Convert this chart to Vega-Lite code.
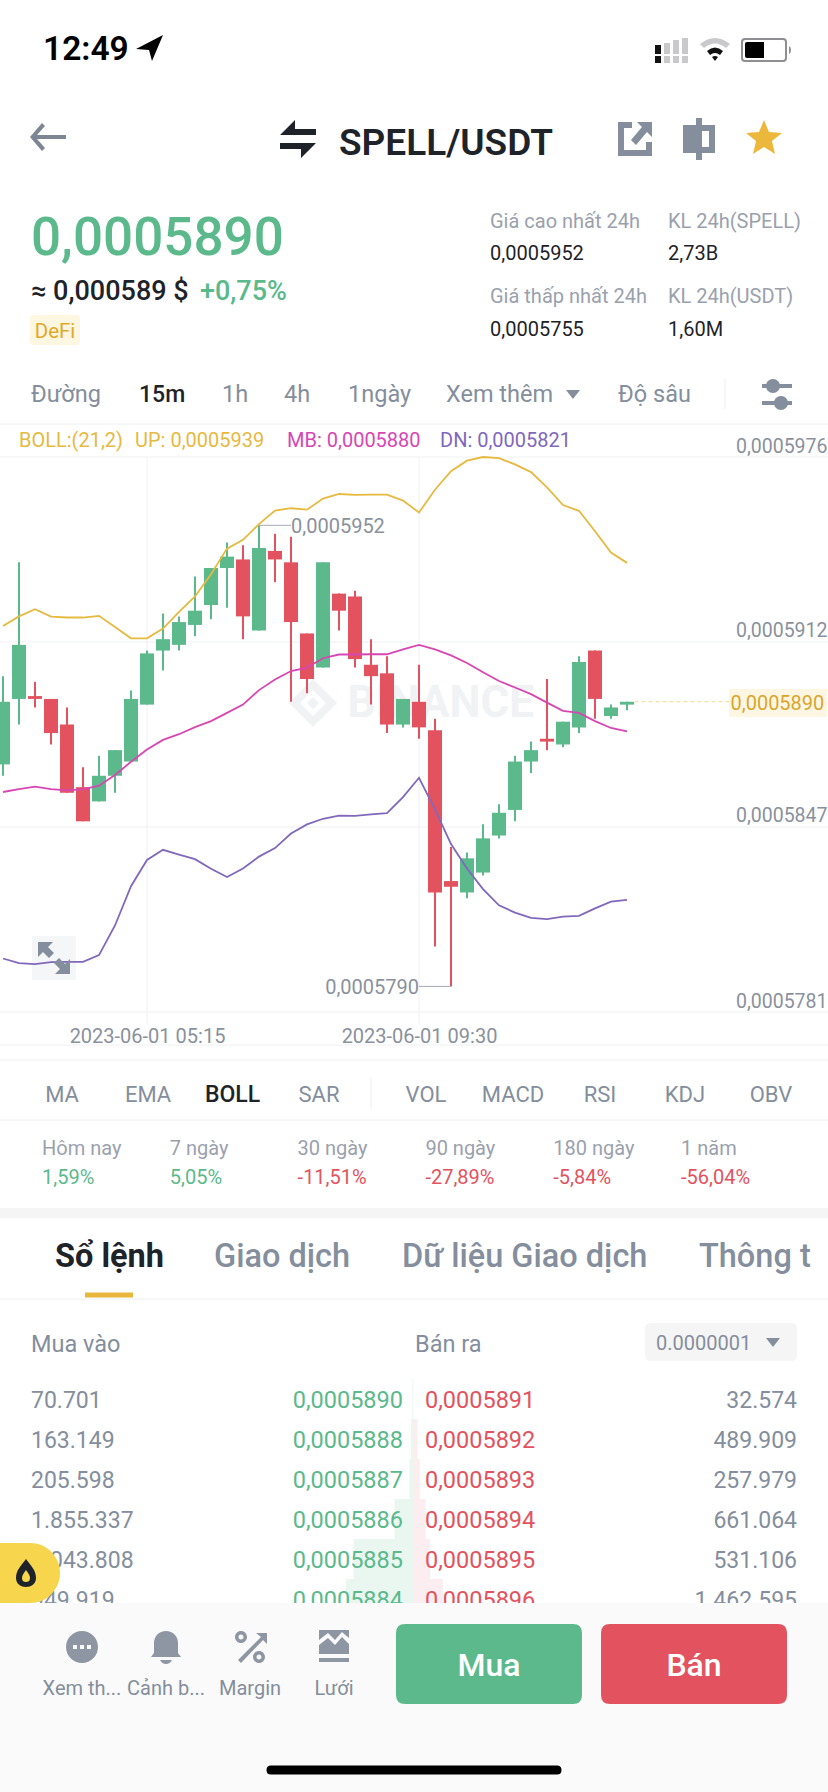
{
  "$schema": "https://vega.github.io/schema/vega-lite/v6.json",
  "width": 828,
  "height": 1792,
  "padding": 0,
  "autosize": "none",
  "background": "#ffffff",
  "config": {"font": "Roboto", "view": {"stroke": null}, "text": {"dy": 2}},
  "resolve": {"scale": {"x": "independent", "y": "independent", "color": "independent", "shape": "independent"}},
  "datasets": {
    "candles": [
      {"time":"2023-06-01T03:00","open":0.0005868,"high":0.0005899,"low":0.0005864,"close":0.000589,"up":0.00059166,"mb":0.00058583,"dn":0.00057998},
      {"time":"2023-06-01T03:15","open":0.0005891,"high":0.0005939,"low":0.0005882,"close":0.000591,"up":0.000592,"mb":0.00058593,"dn":0.00057982},
      {"time":"2023-06-01T03:30","open":0.0005892,"high":0.0005897,"low":0.0005888,"close":0.0005891,"up":0.00059225,"mb":0.00058602,"dn":0.00057978},
      {"time":"2023-06-01T03:45","open":0.0005891,"high":0.0005891,"low":0.0005875,"close":0.0005879,"up":0.00059199,"mb":0.00058593,"dn":0.00057985},
      {"time":"2023-06-01T04:00","open":0.0005882,"high":0.0005888,"low":0.0005858,"close":0.0005858,"up":0.00059196,"mb":0.00058589,"dn":0.00057986},
      {"time":"2023-06-01T04:15","open":0.000586,"high":0.0005867,"low":0.0005848,"close":0.0005848,"up":0.00059196,"mb":0.00058592,"dn":0.00057986},
      {"time":"2023-06-01T04:30","open":0.0005855,"high":0.0005871,"low":0.0005855,"close":0.0005864,"up":0.00059202,"mb":0.00058605,"dn":0.0005801},
      {"time":"2023-06-01T04:45","open":0.0005864,"high":0.0005873,"low":0.0005858,"close":0.0005873,"up":0.00059163,"mb":0.00058643,"dn":0.00058114},
      {"time":"2023-06-01T05:00","open":0.0005869,"high":0.0005894,"low":0.0005869,"close":0.0005891,"up":0.00059123,"mb":0.00058689,"dn":0.00058252},
      {"time":"2023-06-01T05:15","open":0.0005889,"high":0.0005908,"low":0.0005889,"close":0.0005907,"up":0.00059123,"mb":0.00058732,"dn":0.00058344},
      {"time":"2023-06-01T05:30","open":0.0005908,"high":0.0005921,"low":0.0005901,"close":0.0005912,"up":0.00059157,"mb":0.00058766,"dn":0.0005838},
      {"time":"2023-06-01T05:45","open":0.000591,"high":0.000592,"low":0.0005908,"close":0.0005918,"up":0.00059216,"mb":0.00058786,"dn":0.00058363},
      {"time":"2023-06-01T06:00","open":0.0005917,"high":0.0005934,"low":0.0005913,"close":0.0005922,"up":0.0005927,"mb":0.00058811,"dn":0.00058347},
      {"time":"2023-06-01T06:15","open":0.0005924,"high":0.0005937,"low":0.0005919,"close":0.0005937,"up":0.00059348,"mb":0.00058832,"dn":0.00058313},
      {"time":"2023-06-01T06:30","open":0.0005937,"high":0.0005946,"low":0.0005923,"close":0.0005941,"up":0.00059438,"mb":0.00058861,"dn":0.00058284},
      {"time":"2023-06-01T06:45","open":0.000594,"high":0.0005945,"low":0.0005912,"close":0.000592,"up":0.00059469,"mb":0.0005889,"dn":0.00058314},
      {"time":"2023-06-01T07:00","open":0.0005915,"high":0.0005952,"low":0.0005915,"close":0.0005944,"up":0.00059524,"mb":0.00058941,"dn":0.00058356},
      {"time":"2023-06-01T07:15","open":0.0005943,"high":0.0005949,"low":0.0005932,"close":0.000594,"up":0.00059572,"mb":0.00058978,"dn":0.00058386},
      {"time":"2023-06-01T07:30","open":0.0005939,"high":0.0005948,"low":0.000589,"close":0.0005918,"up":0.0005958,"mb":0.00059008,"dn":0.00058437},
      {"time":"2023-06-01T07:45","open":0.0005914,"high":0.0005914,"low":0.0005893,"close":0.0005898,"up":0.00059575,"mb":0.0005902,"dn":0.00058469},
      {"time":"2023-06-01T08:00","open":0.0005902,"high":0.0005939,"low":0.0005902,"close":0.0005939,"up":0.00059614,"mb":0.00059053,"dn":0.00058489},
      {"time":"2023-06-01T08:15","open":0.0005928,"high":0.0005928,"low":0.0005915,"close":0.0005922,"up":0.0005963,"mb":0.00059066,"dn":0.000585},
      {"time":"2023-06-01T08:30","open":0.0005927,"high":0.0005929,"low":0.0005902,"close":0.0005905,"up":0.00059627,"mb":0.00059066,"dn":0.00058499},
      {"time":"2023-06-01T08:45","open":0.0005903,"high":0.0005912,"low":0.0005889,"close":0.0005899,"up":0.00059628,"mb":0.00059067,"dn":0.00058504},
      {"time":"2023-06-01T09:00","open":0.00059,"high":0.0005906,"low":0.0005879,"close":0.0005882,"up":0.00059628,"mb":0.00059067,"dn":0.00058509},
      {"time":"2023-06-01T09:15","open":0.0005882,"high":0.0005891,"low":0.0005881,"close":0.0005891,"up":0.00059607,"mb":0.00059084,"dn":0.00058565},
      {"time":"2023-06-01T09:30","open":0.000589,"high":0.0005903,"low":0.0005877,"close":0.0005881,"up":0.00059565,"mb":0.000591,"dn":0.00058633},
      {"time":"2023-06-01T09:45","open":0.000588,"high":0.0005884,"low":0.0005804,"close":0.0005823,"up":0.00059645,"mb":0.00059084,"dn":0.00058522},
      {"time":"2023-06-01T10:00","open":0.0005827,"high":0.0005839,"low":0.000579,"close":0.0005825,"up":0.0005971,"mb":0.00059063,"dn":0.000584},
      {"time":"2023-06-01T10:15","open":0.0005823,"high":0.0005837,"low":0.0005821,"close":0.0005835,"up":0.00059747,"mb":0.00059036,"dn":0.00058314},
      {"time":"2023-06-01T10:30","open":0.000583,"high":0.0005847,"low":0.0005829,"close":0.0005842,"up":0.0005976,"mb":0.00059004,"dn":0.00058242},
      {"time":"2023-06-01T10:45","open":0.0005843,"high":0.0005854,"low":0.0005842,"close":0.0005851,"up":0.00059756,"mb":0.00058973,"dn":0.00058185},
      {"time":"2023-06-01T11:00","open":0.0005852,"high":0.0005871,"low":0.0005848,"close":0.0005869,"up":0.00059734,"mb":0.0005895,"dn":0.00058159},
      {"time":"2023-06-01T11:15","open":0.0005869,"high":0.0005876,"low":0.0005865,"close":0.0005873,"up":0.00059707,"mb":0.00058927,"dn":0.00058141},
      {"time":"2023-06-01T11:30","open":0.0005877,"high":0.0005898,"low":0.0005873,"close":0.0005876,"up":0.00059653,"mb":0.00058897,"dn":0.00058136},
      {"time":"2023-06-01T11:45","open":0.0005875,"high":0.0005883,"low":0.0005874,"close":0.0005883,"up":0.00059591,"mb":0.00058868,"dn":0.00058145},
      {"time":"2023-06-01T12:00","open":0.0005881,"high":0.0005906,"low":0.0005879,"close":0.0005904,"up":0.00059571,"mb":0.00058861,"dn":0.00058148},
      {"time":"2023-06-01T12:15","open":0.0005908,"high":0.0005908,"low":0.0005884,"close":0.0005891,"up":0.00059499,"mb":0.00058832,"dn":0.00058174},
      {"time":"2023-06-01T12:30","open":0.0005885,"high":0.0005889,"low":0.0005884,"close":0.0005888,"up":0.00059424,"mb":0.00058808,"dn":0.00058198},
      {"time":"2023-06-01T12:45","open":0.0005889,"high":0.000589,"low":0.0005887,"close":0.000589,"up":0.00059388,"mb":0.00058796,"dn":0.00058204}
    ],
    "book": [
      {"level":1,"bid":"70.701","bidPrice":"0,0005890","bidDepth":70701,"askPrice":"0,0005891","ask":"32.574","askDepth":32574},
      {"level":2,"bid":"163.149","bidPrice":"0,0005888","bidDepth":233850,"askPrice":"0,0005892","ask":"489.909","askDepth":522483},
      {"level":3,"bid":"205.598","bidPrice":"0,0005887","bidDepth":439448,"askPrice":"0,0005893","ask":"257.979","askDepth":780462},
      {"level":4,"bid":"1.855.337","bidPrice":"0,0005886","bidDepth":2294785,"askPrice":"0,0005894","ask":"661.064","askDepth":1441526},
      {"level":5,"bid":"5.043.808","bidPrice":"0,0005885","bidDepth":7338593,"askPrice":"0,0005895","ask":"531.106","askDepth":1972632},
      {"level":6,"bid":"949.919","bidPrice":"0,0005884","bidDepth":8288512,"askPrice":"0,0005896","ask":"1.462.595","askDepth":3435227}
    ],
    "periods": [
      {"period":"Hôm nay","change":"1,59%","value":1.59},
      {"period":"7 ngày","change":"5,05%","value":5.05},
      {"period":"30 ngày","change":"-11,51%","value":-11.51},
      {"period":"90 ngày","change":"-27,89%","value":-27.89},
      {"period":"180 ngày","change":"-5,84%","value":-5.84},
      {"period":"1 năm","change":"-56,04%","value":-56.04}
    ]
  },
  "layer": [
    {
      "data": {"values": [{"row":1},{"row":2},{"row":3},{"row":4},{"row":5}]},
      "mark": {"type":"rule","color":"#eff0f2","strokeWidth":1},
      "encoding": {
        "y": {"field":"row","type":"quantitative","scale":{"domain":[1,2,3,4,5],"range":[424,1045,1060,1120,1299]},"axis":null}
      }
    },
    {
      "data": {"values": [
        {"icon":"band","slot":1},{"icon":"defiChip","slot":2},{"icon":"selectChip","slot":3},
        {"icon":"expandBg","slot":4},{"icon":"priceChip","slot":5},{"icon":"logo","slot":6}
      ]},
      "mark": {"type":"point","filled":true,"size":4,"opacity":1},
      "encoding": {
        "x": {"field":"slot","type":"quantitative","scale":{"domain":[1,2,3,4,5,6],"range":[414,55,721,54,778,313]},"axis":null},
        "y": {"field":"slot","type":"quantitative","scale":{"domain":[1,2,3,4,5,6],"range":[1213,330,1342,958,703,703]},"axis":null},
        "shape": {"field":"icon","type":"nominal","legend":null,"scale":{
          "domain":["band","defiChip","selectChip","expandBg","priceChip","logo"],
          "range":[
            "M-414,-5 H414 V5 H-414 Z",
            "M-21,-15 H21 Q25,-15 25,-11 V11 Q25,15 21,15 H-21 Q-25,15 -25,11 V-11 Q-25,-15 -21,-15 Z",
            "M-70,-19 H70 Q76,-19 76,-13 V13 Q76,19 70,19 H-70 Q-76,19 -76,13 V-13 Q-76,-19 -70,-19 Z",
            "M-22,-22 H22 V22 H-22 Z",
            "M-49,-14 H49 V14 H-49 Z",
            "M0,-24 L24,0 L0,24 L-24,0 Z M0,-13 L-13,0 L0,13 L13,0 Z M0,-6 L6,0 L0,6 L-6,0 Z"
          ]}},
        "color": {"field":"icon","type":"nominal","legend":null,"scale":{
          "domain":["band","defiChip","selectChip","expandBg","priceChip","logo"],
          "range":["#f5f5f5","#fdf6e0","#f5f5f5","#f5f6f7","#fdf6e3","#f1f2f4"]}}
      }
    },
    {
      "data": {"values": [{"label":"12:49","slot":1}]},
      "mark": {"type":"text","align":"left","fontSize":33.5,"fontWeight":600,"color":"#000000"},
      "encoding": {
        "x": {"field":"slot","type":"quantitative","scale":{"domain":[1,2],"range":[43,44]},"axis":null},
        "y": {"field":"slot","type":"quantitative","scale":{"domain":[1,2],"range":[48,48]},"axis":null},
        "text": {"field":"label"}
      }
    },
    {
      "data": {"values": [{"label":"SPELL/USDT","slot":1}]},
      "mark": {"type":"text","align":"left","fontSize":37,"fontWeight":600,"color":"#1e2329"},
      "encoding": {
        "x": {"field":"slot","type":"quantitative","scale":{"domain":[1,2],"range":[339,340]},"axis":null},
        "y": {"field":"slot","type":"quantitative","scale":{"domain":[1,2],"range":[142,142]},"axis":null},
        "text": {"field":"label"}
      }
    },
    {
      "data": {"values": [{"label":"0,0005890","slot":1}]},
      "mark": {"type":"text","align":"left","fontSize":53,"fontWeight":500,"color":"#5bb98b"},
      "encoding": {
        "x": {"field":"slot","type":"quantitative","scale":{"domain":[1,2],"range":[31,32]},"axis":null},
        "y": {"field":"slot","type":"quantitative","scale":{"domain":[1,2],"range":[237,237]},"axis":null},
        "text": {"field":"label"}
      }
    },
    {
      "data": {"values": [{"label":"≈ 0,000589 $","slot":1,"tone":"ink"},{"label":"+0,75%","slot":2,"tone":"up"}]},
      "mark": {"type":"text","align":"left","fontSize":27,"fontWeight":500},
      "encoding": {
        "x": {"field":"slot","type":"quantitative","scale":{"domain":[1,2],"range":[31,200]},"axis":null},
        "y": {"field":"slot","type":"quantitative","scale":{"domain":[1,2],"range":[290,290]},"axis":null},
        "text": {"field":"label"},
        "color": {"condition":{"test":"datum.tone === 'up'","value":"#5bb98b"},"value":"#1e2329"}
      }
    },
    {
      "data": {"values": [{"label":"DeFi","slot":1}]},
      "mark": {"type":"text","align":"center","fontSize":20.5,"color":"#e0a92b"},
      "encoding": {
        "x": {"field":"slot","type":"quantitative","scale":{"domain":[1,2],"range":[55,56]},"axis":null},
        "y": {"field":"slot","type":"quantitative","scale":{"domain":[1,2],"range":[330,330]},"axis":null},
        "text": {"field":"label"}
      }
    },
    {
      "data": {"values": [
        {"label":"Giá cao nhất 24h","col":1,"row":1,"kind":"name"},{"label":"KL 24h(SPELL)","col":2,"row":1,"kind":"name"},
        {"label":"0,0005952","col":1,"row":2,"kind":"value"},{"label":"2,73B","col":2,"row":2,"kind":"value"},
        {"label":"Giá thấp nhất 24h","col":1,"row":3,"kind":"name"},{"label":"KL 24h(USDT)","col":2,"row":3,"kind":"name"},
        {"label":"0,0005755","col":1,"row":4,"kind":"value"},{"label":"1,60M","col":2,"row":4,"kind":"value"}
      ]},
      "mark": {"type":"text","align":"left","fontSize":20},
      "encoding": {
        "x": {"field":"col","type":"quantitative","scale":{"domain":[1,2],"range":[490,668]},"axis":null},
        "y": {"field":"row","type":"quantitative","scale":{"domain":[1,2,3,4],"range":[220,252,295,328]},"axis":null},
        "text": {"field":"label"},
        "color": {"condition":{"test":"datum.kind === 'value'","value":"#1e2329"},"value":"#9aa1ad"}
      }
    },
    {
      "data": {"values": [
        {"label":"Đường","slot":1},{"label":"1h","slot":2},{"label":"4h","slot":3},
        {"label":"1ngày","slot":4},{"label":"Xem thêm","slot":5},{"label":"Độ sâu","slot":6}
      ]},
      "mark": {"type":"text","align":"left","fontSize":23.5,"color":"#848e9c"},
      "encoding": {
        "x": {"field":"slot","type":"quantitative","scale":{"domain":[1,2,3,4,5,6],"range":[31,222,284,348,446,618]},"axis":null},
        "y": {"field":"slot","type":"quantitative","scale":{"domain":[1,6],"range":[393,393]},"axis":null},
        "text": {"field":"label"}
      }
    },
    {
      "data": {"values": [{"label":"15m","slot":1},{"label":"BOLL","slot":2}]},
      "mark": {"type":"text","align":"left","fontSize":23,"fontWeight":500,"color":"#1e2329"},
      "encoding": {
        "x": {"field":"slot","type":"quantitative","scale":{"domain":[1,2],"range":[139,205]},"axis":null},
        "y": {"field":"slot","type":"quantitative","scale":{"domain":[1,2],"range":[393,1093]},"axis":null},
        "text": {"field":"label"}
      }
    },
    {
      "data": {"values": [
        {"label":"BOLL:(21,2)","slot":1,"band":"up"},{"label":"UP: 0,0005939","slot":2,"band":"up"},
        {"label":"MB: 0,0005880","slot":3,"band":"mb"},{"label":"DN: 0,0005821","slot":4,"band":"dn"}
      ]},
      "mark": {"type":"text","align":"left","fontSize":20},
      "encoding": {
        "x": {"field":"slot","type":"quantitative","scale":{"domain":[1,2,3,4],"range":[19,135,287,440]},"axis":null},
        "y": {"field":"slot","type":"quantitative","scale":{"domain":[1,4],"range":[439,439]},"axis":null},
        "text": {"field":"label"},
        "color": {"condition":[{"test":"datum.band === 'mb'","value":"#d846b4"},{"test":"datum.band === 'dn'","value":"#8068bd"}],"value":"#e6b93f"}
      }
    },
    {
      "data": {"values": [{"price":0.0005781},{"price":0.000584601},{"price":0.000591101},{"price":0.0005976}]},
      "mark": {"type":"rule","color":"#eff0f2","strokeWidth":1},
      "encoding": {
        "y": {"field":"price","type":"quantitative","scale":{"domain":[0.0005781,0.0005976],"range":[1012,457]},
          "axis":{"orient":"right","values":[0.0005781,0.000584601,0.000591101,0.0005976],"title":null,"domain":false,"ticks":false,"grid":false,"labelAlign":"right","labelBaseline":"bottom","labelPadding":-1,"labelOffset":-1,"labelFontSize":19.5,"labelColor":"#8a919c","labelFlush":false,"labelOverlap":false,"labelExpr":"replace(format(ceil(datum.value * 10000000 - 0.005) / 10000000, '.7f'), '.', ',')"}}
      }
    },
    {
      "data": {"values": [{"time":"2023-06-01T05:15","top":0.0005976,"bottom":0.0005777},{"time":"2023-06-01T09:30","top":0.0005976,"bottom":0.0005777}]},
      "mark": {"type":"rule","color":"#eff0f2","strokeWidth":1},
      "encoding": {
        "x": {"field":"time","type":"temporal","scale":{"domain":["2023-06-01T03:00","2023-06-01T12:45"],"range":[3,627]},
          "axis":{"orient":"bottom","offset":-766,"values":[{"year":2023,"month":6,"date":1,"hours":5,"minutes":15},{"year":2023,"month":6,"date":1,"hours":9,"minutes":30}],"format":"%Y-%m-%d %H:%M","title":null,"domain":false,"ticks":false,"grid":false,"labelFontSize":20,"labelColor":"#8a919c","labelFlush":false,"labelOverlap":false,"labelPadding":0}},
        "y": {"field":"top","type":"quantitative","scale":{"domain":[0.0005781,0.0005976],"range":[1012,457]},"axis":null},
        "y2": {"field":"bottom"}
      }
    },
    {
      "data": {"values": [{"time":"2023-06-01T08:23","price":0.000589,"label":"BINANCE"}]},
      "mark": {"type":"text","align":"left","fontSize":44,"fontWeight":700,"color":"#f1f2f4"},
      "encoding": {
        "x": {"field":"time","type":"temporal","scale":{"domain":["2023-06-01T03:00","2023-06-01T12:45"],"range":[3,627]},"axis":null},
        "y": {"field":"price","type":"quantitative","scale":{"domain":[0.0005781,0.0005976],"range":[1012,457]},"axis":null},
        "text": {"field":"label"}
      }
    },
    {
      "data": {"name":"candles"},
      "mark": {"type":"rule","strokeWidth":2},
      "encoding": {
        "x": {"field":"time","type":"temporal","scale":{"domain":["2023-06-01T03:00","2023-06-01T12:45"],"range":[3,627]},"axis":null},
        "y": {"field":"low","type":"quantitative","scale":{"domain":[0.0005781,0.0005976],"range":[1012,457]},"axis":null},
        "y2": {"field":"high"},
        "color": {"condition":{"test":"datum.close < datum.open","value":"#e2535f"},"value":"#5bb98b"}
      }
    },
    {
      "data": {"name":"candles"},
      "mark": {"type":"rule","strokeWidth":14},
      "encoding": {
        "x": {"field":"time","type":"temporal","scale":{"domain":["2023-06-01T03:00","2023-06-01T12:45"],"range":[3,627]},"axis":null},
        "y": {"field":"open","type":"quantitative","scale":{"domain":[0.0005781,0.0005976],"range":[1012,457]},"axis":null},
        "y2": {"field":"close"},
        "color": {"condition":{"test":"datum.close < datum.open","value":"#e2535f"},"value":"#5bb98b"}
      }
    },
    {
      "data": {"name":"candles"},
      "mark": {"type":"line","color":"#e6b93f","strokeWidth":1.8},
      "encoding": {
        "x": {"field":"time","type":"temporal","scale":{"domain":["2023-06-01T03:00","2023-06-01T12:45"],"range":[3,627]},"axis":null},
        "y": {"field":"up","type":"quantitative","scale":{"domain":[0.0005781,0.0005976],"range":[1012,457]},"axis":null}
      }
    },
    {
      "data": {"name":"candles"},
      "mark": {"type":"line","color":"#d846b4","strokeWidth":1.8},
      "encoding": {
        "x": {"field":"time","type":"temporal","scale":{"domain":["2023-06-01T03:00","2023-06-01T12:45"],"range":[3,627]},"axis":null},
        "y": {"field":"mb","type":"quantitative","scale":{"domain":[0.0005781,0.0005976],"range":[1012,457]},"axis":null}
      }
    },
    {
      "data": {"name":"candles"},
      "mark": {"type":"line","color":"#8068bd","strokeWidth":1.8},
      "encoding": {
        "x": {"field":"time","type":"temporal","scale":{"domain":["2023-06-01T03:00","2023-06-01T12:45"],"range":[3,627]},"axis":null},
        "y": {"field":"dn","type":"quantitative","scale":{"domain":[0.0005781,0.0005976],"range":[1012,457]},"axis":null}
      }
    },
    {
      "data": {"values": [
        {"time":"2023-06-01T07:00","end":"2023-06-01T07:30","price":0.0005952},
        {"time":"2023-06-01T10:00","end":"2023-06-01T09:30","price":0.000579}
      ]},
      "mark": {"type":"rule","color":"#a4aab3","strokeWidth":1},
      "encoding": {
        "x": {"field":"time","type":"temporal","scale":{"domain":["2023-06-01T03:00","2023-06-01T12:45"],"range":[3,627]},"axis":null},
        "x2": {"field":"end"},
        "y": {"field":"price","type":"quantitative","scale":{"domain":[0.0005781,0.0005976],"range":[1012,457]},"axis":null}
      }
    },
    {
      "data": {"values": [{"end":"2023-06-01T07:30","price":0.0005952,"label":"0,0005952"}]},
      "mark": {"type":"text","align":"left","fontSize":20,"color":"#8a919c"},
      "encoding": {
        "x": {"field":"end","type":"temporal","scale":{"domain":["2023-06-01T03:00","2023-06-01T12:45"],"range":[3,627]},"axis":null},
        "y": {"field":"price","type":"quantitative","scale":{"domain":[0.0005781,0.0005976],"range":[1012,457]},"axis":null},
        "text": {"field":"label"}
      }
    },
    {
      "data": {"values": [{"end":"2023-06-01T09:30","price":0.000579,"label":"0,0005790"}]},
      "mark": {"type":"text","align":"right","fontSize":20,"color":"#8a919c"},
      "encoding": {
        "x": {"field":"end","type":"temporal","scale":{"domain":["2023-06-01T03:00","2023-06-01T12:45"],"range":[3,627]},"axis":null},
        "y": {"field":"price","type":"quantitative","scale":{"domain":[0.0005781,0.0005976],"range":[1012,457]},"axis":null},
        "text": {"field":"label"}
      }
    },
    {
      "data": {"values": [{"time":"2023-06-01T12:52","end":"2023-06-01T14:22","price":0.000589}]},
      "mark": {"type":"rule","color":"#f3d98c","strokeWidth":1,"strokeDash":[4,3]},
      "encoding": {
        "x": {"field":"time","type":"temporal","scale":{"domain":["2023-06-01T03:00","2023-06-01T12:45"],"range":[3,627]},"axis":null},
        "x2": {"field":"end"},
        "y": {"field":"price","type":"quantitative","scale":{"domain":[0.0005781,0.0005976],"range":[1012,457]},"axis":null}
      }
    },
    {
      "data": {"values": [{"time":"2023-06-01T15:50","price":0.000589,"label":"0,0005890"}]},
      "mark": {"type":"text","align":"right","fontSize":20,"color":"#d9a62e"},
      "encoding": {
        "x": {"field":"time","type":"temporal","scale":{"domain":["2023-06-01T03:00","2023-06-01T12:45"],"range":[3,627]},"axis":null},
        "y": {"field":"price","type":"quantitative","scale":{"domain":[0.0005781,0.0005976],"range":[1012,457]},"axis":null},
        "text": {"field":"label"}
      }
    },
    {
      "data": {"values": [
        {"label":"MA","slot":1},{"label":"EMA","slot":2},{"label":"SAR","slot":3},{"label":"VOL","slot":4},
        {"label":"MACD","slot":5},{"label":"RSI","slot":6},{"label":"KDJ","slot":7},{"label":"OBV","slot":8}
      ]},
      "mark": {"type":"text","align":"center","fontSize":22,"color":"#848e9c"},
      "encoding": {
        "x": {"field":"slot","type":"quantitative","scale":{"domain":[1,2,3,4,5,6,7,8],"range":[62,148,319,426,513,600,685,771]},"axis":null},
        "y": {"field":"slot","type":"quantitative","scale":{"domain":[1,8],"range":[1093,1093]},"axis":null},
        "text": {"field":"label"}
      }
    },
    {
      "data": {"name":"periods"},
      "mark": {"type":"text","align":"left","fontSize":20,"color":"#9aa1ad"},
      "encoding": {
        "x": {"field":"period","type":"nominal","sort":null,"scale":{"type":"point","padding":0,"range":[42,681]},"axis":null},
        "y": {"datum":1,"type":"quantitative","scale":{"domain":[1,2],"range":[1147,1148]},"axis":null},
        "text": {"field":"period"}
      }
    },
    {
      "data": {"name":"periods"},
      "mark": {"type":"text","align":"left","fontSize":20},
      "encoding": {
        "x": {"field":"period","type":"nominal","sort":null,"scale":{"type":"point","padding":0,"range":[42,681]},"axis":null},
        "y": {"datum":1,"type":"quantitative","scale":{"domain":[1,2],"range":[1176,1177]},"axis":null},
        "text": {"field":"change"},
        "color": {"condition":{"test":"datum.value < 0","value":"#e2535f"},"value":"#5bb98b"}
      }
    },
    {
      "data": {"values": [{"label":"Giao dịch","slot":1},{"label":"Dữ liệu Giao dịch","slot":2},{"label":"Thông t","slot":3}]},
      "mark": {"type":"text","align":"left","fontSize":32.5,"fontWeight":500,"color":"#848e9c"},
      "encoding": {
        "x": {"field":"slot","type":"quantitative","scale":{"domain":[1,2,3],"range":[214,402,699]},"axis":null},
        "y": {"field":"slot","type":"quantitative","scale":{"domain":[1,3],"range":[1255,1255]},"axis":null},
        "text": {"field":"label"}
      }
    },
    {
      "data": {"values": [{"label":"Sổ lệnh","slot":1}]},
      "mark": {"type":"text","align":"left","fontSize":32.5,"fontWeight":700,"color":"#1e2329"},
      "encoding": {
        "x": {"field":"slot","type":"quantitative","scale":{"domain":[1,2],"range":[55,56]},"axis":null},
        "y": {"field":"slot","type":"quantitative","scale":{"domain":[1,2],"range":[1255,1255]},"axis":null},
        "text": {"field":"label"}
      }
    },
    {
      "data": {"values": [{"label":"Mua vào","slot":1},{"label":"Bán ra","slot":2}]},
      "mark": {"type":"text","align":"left","fontSize":23.5,"color":"#848e9c"},
      "encoding": {
        "x": {"field":"slot","type":"quantitative","scale":{"domain":[1,2],"range":[31,415]},"axis":null},
        "y": {"field":"slot","type":"quantitative","scale":{"domain":[1,2],"range":[1343,1343]},"axis":null},
        "text": {"field":"label"}
      }
    },
    {
      "data": {"values": [{"label":"0.0000001","slot":1}]},
      "mark": {"type":"text","align":"left","fontSize":20,"color":"#848e9c"},
      "encoding": {
        "x": {"field":"slot","type":"quantitative","scale":{"domain":[1,2],"range":[656,657]},"axis":null},
        "y": {"field":"slot","type":"quantitative","scale":{"domain":[1,2],"range":[1342,1342]},"axis":null},
        "text": {"field":"label"}
      }
    },
    {
      "data": {"name":"book"},
      "mark": {"type":"bar","color":"#eaf7f1"},
      "encoding": {
        "x": {"field":"bidDepth","type":"quantitative","scale":{"domain":[0,10000000],"range":[413,332]},"axis":null},
        "y": {"field":"level","type":"ordinal","scale":{"domain":[1,2,3,4,5,6],"range":[1379,1619],"paddingInner":0,"paddingOuter":0},"axis":null}
      }
    },
    {
      "data": {"name":"book"},
      "mark": {"type":"bar","color":"#fceef0"},
      "encoding": {
        "x": {"field":"askDepth","type":"quantitative","scale":{"domain":[0,10000000],"range":[413,500]},"axis":null},
        "y": {"field":"level","type":"ordinal","scale":{"domain":[1,2,3,4,5,6],"range":[1379,1619],"paddingInner":0,"paddingOuter":0},"axis":null}
      }
    },
    {
      "data": {"name":"book"},
      "mark": {"type":"text","align":"left","fontSize":23,"color":"#848e9c"},
      "encoding": {
        "x": {"datum":1,"type":"quantitative","scale":{"domain":[1,2],"range":[31,32]},"axis":null},
        "y": {"field":"level","type":"ordinal","scale":{"domain":[1,2,3,4,5,6],"range":[1379,1619]},"axis":null},
        "text": {"field":"bid"}
      }
    },
    {
      "data": {"name":"book"},
      "mark": {"type":"text","align":"right","fontSize":23.5,"color":"#5bb98b"},
      "encoding": {
        "x": {"datum":1,"type":"quantitative","scale":{"domain":[1,2],"range":[403,404]},"axis":null},
        "y": {"field":"level","type":"ordinal","scale":{"domain":[1,2,3,4,5,6],"range":[1379,1619]},"axis":null},
        "text": {"field":"bidPrice"}
      }
    },
    {
      "data": {"name":"book"},
      "mark": {"type":"text","align":"left","fontSize":23.5,"color":"#e2535f"},
      "encoding": {
        "x": {"datum":1,"type":"quantitative","scale":{"domain":[1,2],"range":[425,426]},"axis":null},
        "y": {"field":"level","type":"ordinal","scale":{"domain":[1,2,3,4,5,6],"range":[1379,1619]},"axis":null},
        "text": {"field":"askPrice"}
      }
    },
    {
      "data": {"name":"book"},
      "mark": {"type":"text","align":"right","fontSize":23,"color":"#848e9c"},
      "encoding": {
        "x": {"datum":1,"type":"quantitative","scale":{"domain":[1,2],"range":[797,798]},"axis":null},
        "y": {"field":"level","type":"ordinal","scale":{"domain":[1,2,3,4,5,6],"range":[1379,1619]},"axis":null},
        "text": {"field":"ask"}
      }
    },
    {
      "data": {"values": [
        {"icon":"location","slot":1},{"icon":"signalOn","slot":2},{"icon":"signalOff","slot":3},{"icon":"wifiOff","slot":4},
        {"icon":"wifiOn","slot":5},{"icon":"batteryShell","slot":6},{"icon":"batteryLevel","slot":7},{"icon":"back","slot":8},
        {"icon":"swap","slot":9},{"icon":"external","slot":10},{"icon":"candle","slot":11},{"icon":"star","slot":12},
        {"icon":"triangle","slot":13},{"icon":"separator","slot":14},{"icon":"sliders","slot":15},{"icon":"expand","slot":16},
        {"icon":"separator","slot":17},{"icon":"underline","slot":18},{"icon":"triangle","slot":19},{"icon":"panel","slot":20},
        {"icon":"fire","slot":21},{"icon":"drop","slot":22},{"icon":"more","slot":23},{"icon":"bell","slot":24},
        {"icon":"margin","slot":25},{"icon":"grid","slot":26},{"icon":"buy","slot":27},{"icon":"sell","slot":28},{"icon":"home","slot":29}
      ]},
      "mark": {"type":"point","filled":true,"size":4,"opacity":1},
      "encoding": {
        "x": {"field":"slot","type":"quantitative","scale":{
          "domain":[1,2,3,4,5,6,7,8,9,10,11,12,13,14,15,16,17,18,19,20,21,22,23,24,25,26,27,28,29],
          "range":[150,672,672,715,715,766,766,48,298,635,699,764,573,725,777,54,371,109,773,414,30,26,82,166,250,334,489,694,414]},"axis":null},
        "y": {"field":"slot","type":"quantitative","scale":{
          "domain":[1,2,3,4,5,6,7,8,9,10,11,12,13,14,15,16,17,18,19,20,21,22,23,24,25,26,27,28,29],
          "range":[48,50,50,49,49,50,50,137,139,139,139,139,394,394,394,958,1093,1295,1342,1697,1573,1574,1647,1647,1647,1647,1664,1664,1770]},"axis":null},
        "shape": {"field":"icon","type":"nominal","legend":null,"scale":{
          "domain":["location","signalOn","signalOff","wifiOff","wifiOn","batteryShell","batteryLevel","back","swap","external","candle","star","triangle","separator","sliders","expand","underline","panel","fire","drop","more","bell","margin","grid","buy","sell","home"],
          "range":[
            "M-14,1 L13,-13 L2,13 L-1,2 Z",
            "M-17,-5 H-11 V4 H-17 Z M-17,6 H-11 V13 H-17 Z",
            "M-8,-7 H-2 V4 H-8 Z M1,-10 H7 V4 H1 Z M10,-12 H16 V4 H10 Z M-8,6 H-2 V13 H-8 Z M1,6 H7 V13 H1 Z M10,6 H16 V13 H10 Z",
            "M-15,-5 Q0,-17 15,-5 L11,-1 Q0,-10 -11,-1 Z",
            "M-8,2 Q0,-5 8,2 L5,6 Q0,2 -5,6 Z M-3,8 Q0,6 3,8 L0,12 Z",
            "M-21,-12 H17 Q21,-12 21,-8 V8 Q21,12 17,12 H-21 Q-25,12 -25,8 V-8 Q-25,-12 -21,-12 Z M-21,-10 Q-23,-10 -23,-8 V8 Q-23,10 -21,10 H17 Q19,10 19,8 V-8 Q19,-10 17,-10 Z M23,-4 Q25,-3 25,0 Q25,3 23,4 Z",
            "M-19,-8 H-2 V8 H-19 Q-21,8 -21,6 V-6 Q-21,-8 -19,-8 Z",
            "M-18,0 L-6,-14 L-3,-11 L-11,-2 L18,-2 L18,2 L-11,2 L-3,11 L-6,14 Z",
            "M-18,-4 L-3,-19 L-3,-10 L18,-10 L18,-4 Z M18,4 L3,19 L3,10 L-18,10 L-18,4 Z",
            "M-17,-17 L-3,-17 L-3,-11 L-11,-11 L-11,11 L11,11 L11,3 L17,3 L17,17 L-17,17 Z M2,-17 L17,-17 L17,-2 L12,-7 L1,6 L-4,1 L7,-12 Z",
            "M-16,-14 L-3,-14 L-3,-21 L3,-21 L3,-14 L16,-14 L16,14 L3,14 L3,21 L-3,21 L-3,14 L-16,14 Z M3,-8 L3,8 L10,8 L10,-8 Z",
            "M0,-19 L5,-7 L18,-6 L8,2 L11,15 L0,8 L-11,15 L-8,2 L-18,-6 L-5,-7 Z",
            "M-7,-4 H7 L0,5 Z",
            "M-0.5,-15 H0.5 V15 H-0.5 Z",
            "M-15,-10 H15 V-6 H-15 Z M-11,-8 A7,7 0 1,1 3,-8 A7,7 0 1,1 -11,-8 Z M-15,7 H15 V11 H-15 Z M-3,9 A7,7 0 1,1 11,9 A7,7 0 1,1 -3,9 Z",
            "M-16,-16 H-1 L-6,-11 L0,-5 L-5,0 L-11,-6 L-16,-1 Z M16,16 H1 L6,11 L0,5 L5,0 L11,6 L16,1 Z",
            "M-24,-2.5 H24 V2.5 H-24 Z",
            "M-414,-94 H414 V95 H-414 Z",
            "M-30,-30 H0 A30,30 0 0,1 0,30 H-30 Z",
            "M0,-15 C5,-8 10,-4 10,4 C10,10 5,13 0,13 C-5,13 -10,10 -10,4 C-10,-4 -5,-8 0,-15 Z M0,-4 C-3,0 -4,2 -4,4 C-4,7 -2,8 0,8 C2,8 4,7 4,4 C4,2 3,0 0,-4 Z",
            "M-16,0 A16,16 0 1,1 16,0 A16,16 0 1,1 -16,0 Z M-9,-2 V2 H-5 V-2 Z M-2,-2 V2 H2 V-2 Z M5,-2 V2 H9 V-2 Z",
            "M0,-16 C-7,-16 -12,-11 -12,-4 V6 L-15,10 H15 L12,6 V-4 C12,-11 7,-16 0,-16 Z M-6,13 H6 Q4,17 0,17 Q-4,17 -6,13 Z",
            "M-12,13 L11,-10 L6,-14 H17 V-3 L13,-7 L-9,16 Z M-15,-10 A6,6 0 1,1 -3,-10 A6,6 0 1,1 -15,-10 Z M-11.5,-10 A2.5,2.5 0 1,0 -6.5,-10 A2.5,2.5 0 1,0 -11.5,-10 Z M3,10 A6,6 0 1,1 15,10 A6,6 0 1,1 3,10 Z M6.5,10 A2.5,2.5 0 1,0 11.5,10 A2.5,2.5 0 1,0 6.5,10 Z",
            "M-15,7 V-2 L-6,-9 L1,-2 L8,-10 L15,-3 V7 Z M-15,-17 H15 V-9 L8,-15 L1,-7 L-6,-14 L-15,-7 Z M-15,11 H15 V15 H-15 Z",
            "M-84,-40 H84 Q93,-40 93,-31 V31 Q93,40 84,40 H-84 Q-93,40 -93,31 V-31 Q-93,-40 -84,-40 Z",
            "M-84,-40 H84 Q93,-40 93,-31 V31 Q93,40 84,40 H-84 Q-93,40 -93,31 V-31 Q-93,-40 -84,-40 Z",
            "M-143,-4.5 H143 Q147.5,-4.5 147.5,0 Q147.5,4.5 143,4.5 H-143 Q-147.5,4.5 -147.5,0 Q-147.5,-4.5 -143,-4.5 Z"
          ]}},
        "color": {"field":"icon","type":"nominal","legend":null,"scale":{
          "domain":["location","signalOn","signalOff","wifiOff","wifiOn","batteryShell","batteryLevel","back","swap","external","candle","star","triangle","separator","sliders","expand","underline","panel","fire","drop","more","bell","margin","grid","buy","sell","home"],
          "range":["#000000","#111111","#c9c9cc","#c9c9cc","#111111","#8e8e93","#000000","#7d8694","#1e2329","#848e9c","#848e9c","#ecb83c","#848e9c","#eff0f2","#848e9c","#848e9c","#e9b73b","#fafafa","#f7d64e","#1e2329","#8f96a3","#8f96a3","#8f96a3","#8f96a3","#5cb98c","#e2525f","#000000"]}}
      }
    },
    {
      "data": {"values": [{"label":"Xem th...","slot":1},{"label":"Cảnh b...","slot":2},{"label":"Margin","slot":3},{"label":"Lưới","slot":4}]},
      "mark": {"type":"text","align":"center","fontSize":20,"color":"#848e9c"},
      "encoding": {
        "x": {"field":"slot","type":"quantitative","scale":{"domain":[1,2,3,4],"range":[82,166,250,334]},"axis":null},
        "y": {"field":"slot","type":"quantitative","scale":{"domain":[1,4],"range":[1687,1687]},"axis":null},
        "text": {"field":"label"}
      }
    },
    {
      "data": {"values": [{"label":"Mua","slot":1},{"label":"Bán","slot":2}]},
      "mark": {"type":"text","align":"center","fontSize":32,"fontWeight":500,"color":"#ffffff"},
      "encoding": {
        "x": {"field":"slot","type":"quantitative","scale":{"domain":[1,2],"range":[489,694]},"axis":null},
        "y": {"field":"slot","type":"quantitative","scale":{"domain":[1,2],"range":[1664,1664]},"axis":null},
        "text": {"field":"label"}
      }
    }
  ]
}
